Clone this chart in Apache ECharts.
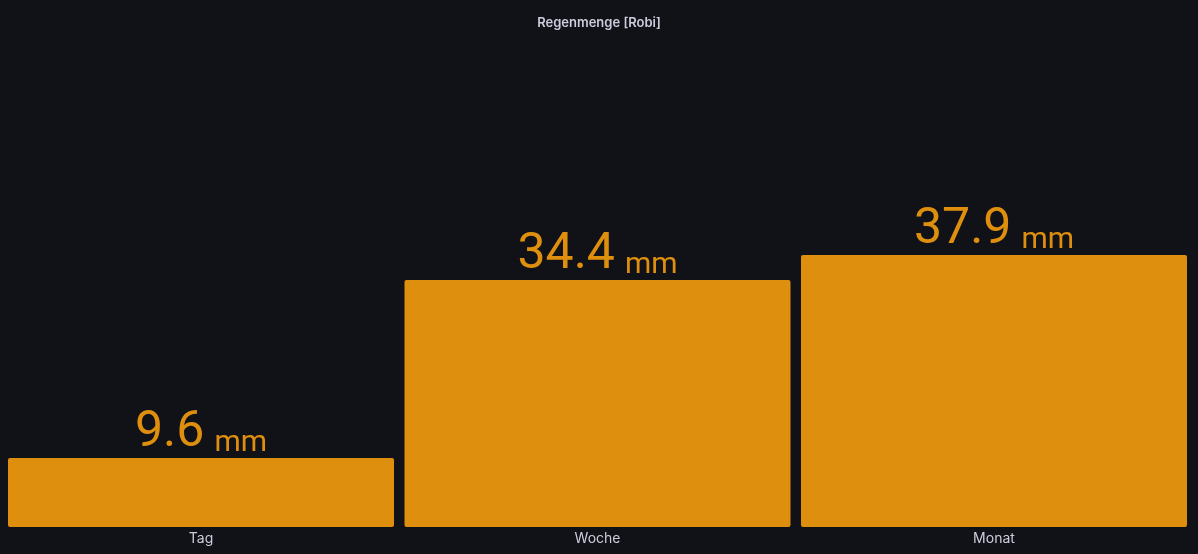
<!DOCTYPE html>
<html><head><meta charset="utf-8">
<script src="https://cdn.jsdelivr.net/npm/echarts@6/dist/echarts.min.js"></script>
<style>html,body{margin:0;padding:0;background:#111217;}#c{width:1198px;height:554px;}</style>
</head><body><div id="c"></div>
<script>
const categories = ['Tag', 'Woche', 'Monat'];
const values = [9.6, 34.4, 37.9];
const unit = 'mm';
const title = 'Regenmenge [Robi]';

const chart = echarts.init(document.getElementById('c'));
chart.setOption({
  backgroundColor: '#111217',
  animation: false,
  title: {
    text: title, left: 'center', top: 12,
    textStyle: { color: '#ccccdc', fontSize: 13, fontWeight: 600, fontFamily: 'Inter' }
  },
  grid: { left: 2.75, right: 5.75, top: 255, bottom: 27, containLabel: false },
  xAxis: {
    type: 'category', data: categories,
    axisLine: { show: false }, axisTick: { show: false },
    axisLabel: { color: '#ccccdc', fontSize: 14, fontFamily: 'Inter', margin: 5 }
  },
  yAxis: { type: 'value', min: 0, max: 'dataMax', show: false, splitLine: { show: false } },
  series: [{
    type: 'bar', data: values, barWidth: 386,
    itemStyle: { color: '#df8f0e', borderRadius: 2 },
    label: {
      show: true, position: 'top', distance: 0,
      formatter: p => '{v|' + p.value + '}{u|' + unit + '}',
      rich: {
        v: { fontSize: 50, color: '#df8f0e', fontFamily: 'Roboto', lineHeight: 56, verticalAlign: 'bottom' },
        u: { fontSize: 30, color: '#df8f0e', fontFamily: 'Roboto', lineHeight: 56, verticalAlign: 'bottom', padding: [0,0,0,10] }
      }
    }
  }]
});
</script></body></html>
